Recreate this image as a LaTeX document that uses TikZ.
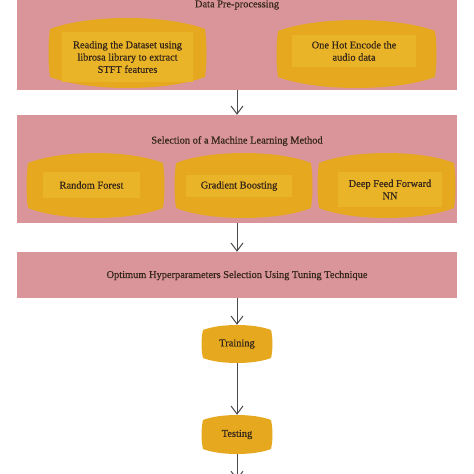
\documentclass[tikz,border=0pt]{standalone}
\usepackage{fontspec}
\setmainfont{Liberation Serif}[FakeBold=0.4]
\usetikzlibrary{arrows.meta}
\definecolor{pinkbg}{HTML}{D99599}
\definecolor{yellowout}{HTML}{E5A81E}
\definecolor{yellowin}{HTML}{EAB428}
\definecolor{txtcol}{HTML}{35261A}
\definecolor{linecol}{HTML}{4A4A4A}
\newcommand{\pillowshape}[5]{%
  \fill[yellowout] ({#1},{#2+#5})
    .. controls ({#1+0.25*(#3-#1)},{#2-#5/3}) and ({#3-0.25*(#3-#1)},{#2-#5/3}) .. ({#3},{#2+#5})
    .. controls ({#3+2},{#2+#5+0.3*(#4-#2-2*#5)}) and ({#3+2},{#4-#5-0.3*(#4-#2-2*#5)}) .. ({#3},{#4-#5})
    .. controls ({#3-0.25*(#3-#1)},{#4+#5/3}) and ({#1+0.25*(#3-#1)},{#4+#5/3}) .. ({#1},{#4-#5})
    .. controls ({#1-2},{#4-#5-0.3*(#4-#2-2*#5)}) and ({#1-2},{#2+#5+0.3*(#4-#2-2*#5)}) .. cycle;}
\tikzset{
  stage/.style={fill=pinkbg, draw=none, minimum width=440pt, inner sep=0pt},
  title/.style={text=txtcol, inner sep=0pt, font=\fontsize{10.4}{12}\selectfont},
  inbox/.style={fill=yellowin, text=txtcol, inner sep=0pt, align=center, font=\fontsize{10.4}{12.3}\selectfont},
  barrel/.style={text=txtcol, inner sep=0pt, minimum width=68pt, font=\fontsize{10.4}{12}\selectfont},
  flow/.style={draw=linecol, line width=1pt, -{Straight Barb[length=8pt,width=12pt,line width=1pt]}}
}
\begin{document}
\begin{tikzpicture}[x=1pt,y=-1pt]
\useasboundingbox (0,0) rectangle (474,474);
% stage boxes
\node[stage, minimum height=110pt] (s1) at (237,35) {};
\node[stage, minimum height=108pt] (s2) at (237,169) {};
\node[stage, minimum height=46pt] (s3) at (237,275) {};
\node[title] (t1) at (237,5) {Data Pre-processing};
\node[title] (t2) at (237,141) {Selection of a Machine Learning Method};
\node[title] (t3) at (237,275.5) {Optimum Hyperparameters Selection Using Tuning Technique};
% pillows stage 1
\pillowshape{50}{18}{205}{88}{11}
\pillowshape{278}{20}{435}{88}{11}
\node[inbox, minimum width=131pt, minimum height=50pt] (a1) at (127.5,57) {Reading the Dataset using\\librosa library to extract\\STFT features};
\node[inbox, minimum width=124pt, minimum height=32pt] (a2) at (354,51) {One Hot Encode the\\audio data};
% pillows stage 2
\pillowshape{28}{153}{163}{218}{10}
\pillowshape{176}{153}{311}{218}{10}
\pillowshape{319}{153}{454}{218}{10}
\node[inbox, minimum width=97pt, minimum height=26pt] (b1) at (91.5,185) {Random Forest};
\node[inbox, minimum width=106pt, minimum height=22pt] (b2) at (239,186) {Gradient Boosting};
\node[inbox, minimum width=104pt, minimum height=35pt] (b3) at (390,189.5) {Deep Feed Forward\\NN};
% training / testing
\pillowshape{203}{325}{271}{363}{5}
\pillowshape{203}{415}{271}{454}{5}
\node[barrel, minimum height=38pt] (tr) at (237,344) {Training};
\node[barrel, minimum height=39pt] (te) at (237,434.5) {Testing};
\coordinate (end) at (237,480);
% connectors
\draw[flow] (s1.south) -- (s2.north);
\draw[flow] (s2.south) -- (s3.north);
\draw[flow] (s3.south) -- (tr.north);
\draw[flow] (tr.south) -- (te.north);
\draw[flow] (te.south) -- (end);
\end{tikzpicture}
\end{document}
